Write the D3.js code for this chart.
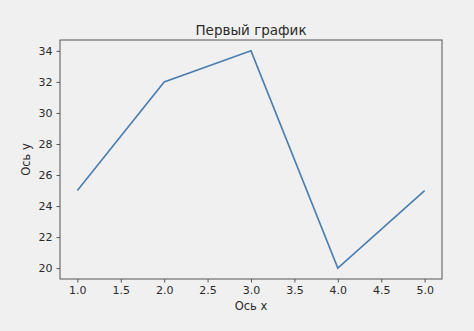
<!DOCTYPE html>
<html><head><meta charset="utf-8">
<script src="https://cdn.jsdelivr.net/npm/d3@7"></script>
<style>
html,body{margin:0;padding:0;background:#f0f0f0;}
svg{display:block;font-family:"DejaVu Sans",sans-serif;}
</style></head>
<body>
<svg id="c" width="474" height="331"></svg>
<script>
const xValues = [1, 2, 3, 4, 5];
const yValues = [25, 32, 34, 20, 25];
const xTicks = [1.0, 1.5, 2.0, 2.5, 3.0, 3.5, 4.0, 4.5, 5.0];
const yTicks = [20, 22, 24, 26, 28, 30, 32, 34];
const title = "Первый график";
const xLabel = "Ось x";
const yLabel = "Ось y";

const svg = d3.select("#c");
const W = 474, H = 331;
const m = {left: 60, right: 442, top: 40, bottom: 279};
svg.append("rect").attr("width", W).attr("height", H).attr("fill", "#f0f0f0");

const x = d3.scaleLinear().domain([0.8, 5.2]).range([m.left, m.right]);
const y = d3.scaleLinear().domain([19.3, 34.7]).range([m.bottom, m.top]);

const textColor = "#2a2a2a";
const spineColor = "#555";

// line
svg.append("path")
  .datum(xValues.map((d, i) => [d, yValues[i]]))
  .attr("fill", "none")
  .attr("stroke", "#4a7db0")
  .attr("stroke-width", 1.6)
  .attr("stroke-linejoin", "miter")
  .attr("d", d3.line().x(d => x(d[0])).y(d => y(d[1])));

// spines
svg.append("rect")
  .attr("x", m.left).attr("y", m.top)
  .attr("width", m.right - m.left).attr("height", m.bottom - m.top)
  .attr("fill", "none").attr("stroke", spineColor).attr("stroke-width", 1);

// axes
const xa = svg.append("g").attr("transform", `translate(0,${m.bottom})`)
  .call(d3.axisBottom(x).tickValues(xTicks).tickFormat(d3.format(".1f")).tickSize(3.5).tickPadding(4));
const ya = svg.append("g").attr("transform", `translate(${m.left},0)`)
  .call(d3.axisLeft(y).tickValues(yTicks).tickFormat(d3.format("d")).tickSize(3.5).tickPadding(4));
[xa, ya].forEach(g => {
  g.select(".domain").remove();
  g.selectAll(".tick line").attr("stroke", spineColor);
  g.selectAll(".tick text").attr("fill", textColor).style("font-size", "11px").style("font-family", "DejaVu Sans, sans-serif");
});

svg.append("text").attr("x", (m.left + m.right) / 2).attr("y", 35)
  .attr("text-anchor", "middle").attr("fill", textColor)
  .style("font-size", "13.5px").text(title);
svg.append("text").attr("x", (m.left + m.right) / 2).attr("y", 310)
  .attr("text-anchor", "middle").attr("fill", textColor)
  .style("font-size", "11.5px").text(xLabel);
svg.append("text").attr("transform", `translate(30,${(m.top + m.bottom) / 2}) rotate(-90)`)
  .attr("text-anchor", "middle").attr("fill", textColor)
  .style("font-size", "11.5px").text(yLabel);
</script>
</body></html>
